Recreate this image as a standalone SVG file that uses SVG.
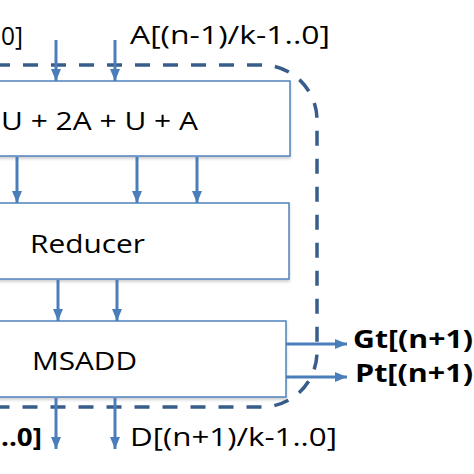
<svg xmlns="http://www.w3.org/2000/svg" width="474" height="474" viewBox="0 0 474 474">
  <defs>
    <marker id="ah" viewBox="0 0 12 10" refX="12" refY="5" markerWidth="12" markerHeight="10" markerUnits="userSpaceOnUse" orient="auto">
      <path d="M0,0 L12,5 L0,10 z" fill="#4a7ebb"/>
    </marker>
    <filter id="sh" x="-10%" y="-10%" width="120%" height="130%">
      <feDropShadow dx="0" dy="2" stdDeviation="1.5" flood-color="#000" flood-opacity="0.2"/>
    </filter>
  </defs>
  <style>
    .box { fill: #ffffff; stroke: #4f81bd; stroke-width: 1.5; filter: url(#sh); }
    .lbl { font-family: "Open Sans", "Liberation Sans", sans-serif; font-size: 25px; fill: #000; }
    .b { font-weight: bold; }
    .arr { stroke: #4a7ebb; stroke-width: 3; fill: none; marker-end: url(#ah); }
    .dash { fill: none; stroke: #385d8a; stroke-width: 3.5; stroke-dasharray: 15 13; }
  </style>
  <rect width="474" height="474" fill="#fff"/>
  <g id="boundary">
    <rect class="dash" x="-60" y="65" width="377" height="342" rx="55" ry="55"/>
  </g>
  <g id="node-ua">
    <rect class="box" x="-20" y="81" width="310" height="75"/>
    <text class="lbl" x="1" y="130" textLength="197" lengthAdjust="spacingAndGlyphs">U + 2A + U + A</text>
  </g>
  <g id="node-reducer">
    <rect class="box" x="-20" y="203" width="309" height="76"/>
    <text class="lbl" x="30" y="253" textLength="115" lengthAdjust="spacingAndGlyphs">Reducer</text>
  </g>
  <g id="node-msadd">
    <rect class="box" x="-20" y="321" width="306" height="76"/>
    <text class="lbl" x="32" y="370" textLength="105" lengthAdjust="spacingAndGlyphs">MSADD</text>
  </g>
  <g id="labels">
    <text class="lbl" x="1" y="45" textLength="22" lengthAdjust="spacingAndGlyphs">0]</text>
    <text class="lbl" x="130" y="44" textLength="200" lengthAdjust="spacingAndGlyphs">A[(n-1)/k-1..0]</text>
    <text class="lbl b" x="1" y="446" textLength="41" lengthAdjust="spacingAndGlyphs">..0]</text>
    <text class="lbl" x="130" y="446" textLength="207" lengthAdjust="spacingAndGlyphs">D[(n+1)/k-1..0]</text>
    <text class="lbl b" x="353" y="348" textLength="120" lengthAdjust="spacingAndGlyphs">Gt[(n+1)</text>
    <text class="lbl b" x="355" y="382" textLength="118" lengthAdjust="spacingAndGlyphs">Pt[(n+1)</text>
  </g>
  <g id="connectors">
    <line class="arr" x1="56" y1="40" x2="56" y2="81"/>
    <line class="arr" x1="115" y1="40" x2="115" y2="81"/>
    <line class="arr" x1="17" y1="157" x2="17" y2="203"/>
    <line class="arr" x1="137" y1="157" x2="137" y2="203"/>
    <line class="arr" x1="197" y1="157" x2="197" y2="203"/>
    <line class="arr" x1="58" y1="280" x2="58" y2="321"/>
    <line class="arr" x1="117" y1="280" x2="117" y2="321"/>
    <line class="arr" x1="56" y1="398" x2="56" y2="449"/>
    <line class="arr" x1="115" y1="398" x2="115" y2="449"/>
    <line class="arr" x1="286" y1="344" x2="347" y2="344"/>
    <line class="arr" x1="286" y1="377" x2="347" y2="377"/>
  </g>
</svg>
